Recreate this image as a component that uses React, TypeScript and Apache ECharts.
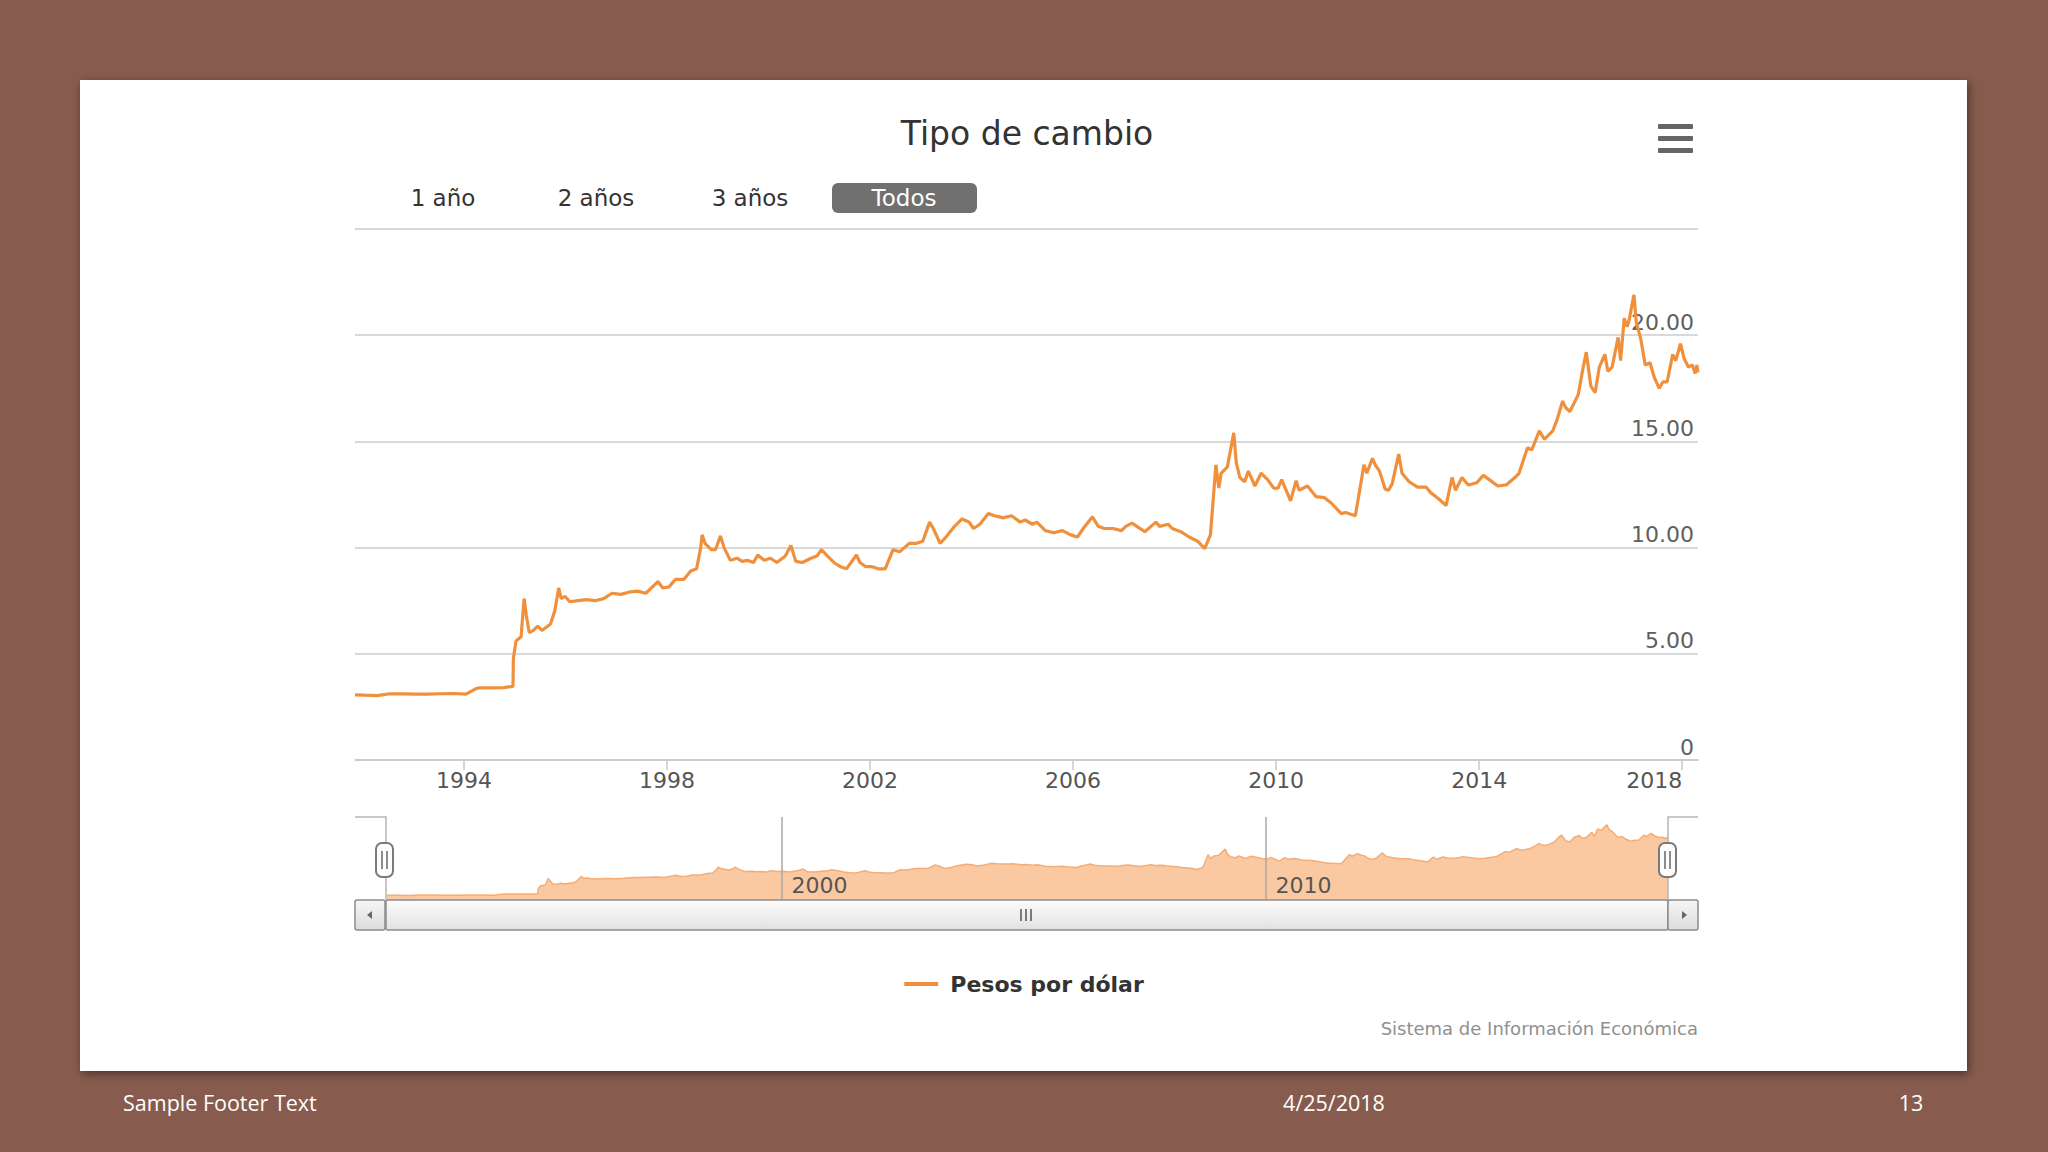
import React, { useEffect, useRef } from 'react';
import * as echarts from 'echarts';

// ---------- data ----------
const dates = [
  '1991-11-08', '1992-01-15', '1992-04-15', '1992-07-15', '1992-10-15', '1993-01-15', '1993-04-15', '1993-07-15', '1993-10-15',
  '1994-01-15', '1994-03-25', '1994-04-20', '1994-07-15', '1994-10-15', '1994-12-19', '1994-12-22',
  '1995-01-10', '1995-02-15', '1995-03-09', '1995-03-25', '1995-04-15', '1995-05-15', '1995-06-15', '1995-07-15', '1995-08-15',
  '1995-09-15', '1995-10-15', '1995-11-13', '1995-12-01', '1995-12-29',
  '1996-02-01', '1996-04-01', '1996-06-01', '1996-08-01', '1996-10-01', '1996-12-01',
  '1997-02-01', '1997-04-01', '1997-06-01', '1997-08-01', '1997-10-27', '1997-12-01',
  '1998-01-15', '1998-03-01', '1998-05-01', '1998-06-20', '1998-08-01', '1998-08-31', '1998-09-10', '1998-10-01', '1998-11-15', '1998-12-15',
  '1999-01-20', '1999-02-15', '1999-04-01', '1999-05-20', '1999-06-25', '1999-08-01', '1999-09-15', '1999-10-15', '1999-12-01',
  '2000-01-15', '2000-03-01', '2000-05-01', '2000-06-10', '2000-07-15', '2000-09-01', '2000-11-01', '2000-12-15',
  '2001-01-15', '2001-03-01', '2001-04-15', '2001-06-01', '2001-07-15', '2001-09-25', '2001-10-20', '2001-12-01',
  '2002-01-15', '2002-03-01', '2002-04-20', '2002-06-15', '2002-08-01', '2002-10-10', '2002-12-01',
  '2003-01-15', '2003-03-05', '2003-04-01', '2003-05-20', '2003-07-01', '2003-09-01', '2003-10-25', '2003-12-15',
  '2004-01-15', '2004-03-01', '2004-05-01', '2004-06-15', '2004-08-15', '2004-10-15', '2004-12-15',
  '2005-01-20', '2005-03-15', '2005-04-15', '2005-06-15', '2005-08-15', '2005-10-15', '2005-12-15',
  '2006-02-01', '2006-03-15', '2006-05-20', '2006-07-01', '2006-08-15', '2006-10-15', '2006-12-15',
  '2007-01-15', '2007-03-01', '2007-04-15', '2007-06-01', '2007-08-20', '2007-09-15', '2007-11-15', '2007-12-15',
  '2008-02-15', '2008-04-15', '2008-06-15', '2008-08-05', '2008-09-15', '2008-10-08', '2008-10-24', '2008-11-15', '2008-12-01',
  '2009-01-15', '2009-03-02', '2009-03-20', '2009-04-15', '2009-05-20', '2009-06-15', '2009-08-01', '2009-09-15', '2009-11-01', '2009-12-15',
  '2010-01-15', '2010-02-10', '2010-04-15', '2010-05-25', '2010-06-15', '2010-08-15', '2010-10-15', '2010-12-15',
  '2011-02-01', '2011-04-15', '2011-05-15', '2011-07-25', '2011-08-15', '2011-09-25', '2011-10-15', '2011-11-25', '2011-12-15',
  '2012-01-15', '2012-02-25', '2012-03-20', '2012-04-15', '2012-06-01', '2012-06-25', '2012-08-15', '2012-10-15', '2012-12-15',
  '2013-01-15', '2013-03-15', '2013-05-08', '2013-06-20', '2013-07-15', '2013-08-30', '2013-10-15', '2013-12-15',
  '2014-01-31', '2014-03-15', '2014-05-15', '2014-07-15', '2014-09-15', '2014-10-15', '2014-12-15',
  '2015-01-15', '2015-03-10', '2015-04-15', '2015-06-15', '2015-07-15', '2015-08-25', '2015-09-15', '2015-10-15', '2015-11-15', '2015-12-15',
  '2016-01-20', '2016-02-11', '2016-03-15', '2016-04-15', '2016-05-15', '2016-06-24', '2016-07-15', '2016-08-15', '2016-09-27', '2016-10-15',
  '2016-11-10', '2016-12-01', '2016-12-15',
  '2017-01-19', '2017-02-05', '2017-03-10', '2017-04-10', '2017-05-15', '2017-06-15', '2017-07-20', '2017-08-15', '2017-09-15', '2017-10-25',
  '2017-11-15', '2017-12-20',
  '2018-01-15', '2018-02-15', '2018-03-15', '2018-04-05', '2018-04-17', '2018-04-25',
];
const pesos = [
  3.07, 3.05, 3.03, 3.12, 3.11, 3.10, 3.10, 3.12, 3.13,
  3.10, 3.35, 3.40, 3.40, 3.41, 3.47, 4.80,
  5.60, 5.80, 7.60, 6.80, 6.00, 6.10, 6.30, 6.10, 6.25,
  6.40, 7.00, 8.10, 7.60, 7.70,
  7.45, 7.50, 7.55, 7.50, 7.60, 7.85,
  7.80, 7.90, 7.95, 7.85, 8.40, 8.10,
  8.15, 8.50, 8.50, 8.90, 9.00, 10.00, 10.60, 10.20, 9.90, 9.90,
  10.55, 10.00, 9.40, 9.50, 9.35, 9.40, 9.30, 9.65, 9.40,
  9.50, 9.30, 9.60, 10.10, 9.35, 9.30, 9.50, 9.60,
  9.90, 9.60, 9.30, 9.10, 9.00, 9.65, 9.30, 9.10,
  9.10, 9.00, 9.00, 9.90, 9.80, 10.20, 10.20,
  10.30, 11.20, 10.90, 10.20, 10.50, 11.00, 11.35, 11.20,
  10.90, 11.10, 11.60, 11.50, 11.40, 11.50, 11.20,
  11.30, 11.10, 11.20, 10.80, 10.70, 10.80, 10.60,
  10.50, 10.90, 11.45, 11.00, 10.90, 10.90, 10.80,
  11.00, 11.15, 10.95, 10.75, 11.20, 11.00, 11.10, 10.90,
  10.75, 10.50, 10.30, 9.95, 10.60, 12.50, 13.90, 12.80, 13.50,
  13.80, 15.40, 14.00, 13.30, 13.10, 13.60, 12.90, 13.50, 13.20, 12.80,
  12.80, 13.20, 12.20, 13.15, 12.70, 12.90, 12.40, 12.35,
  12.10, 11.60, 11.65, 11.50, 12.30, 13.90, 13.50, 14.20, 13.90,
  13.60, 12.75, 12.70, 13.00, 14.40, 13.50, 13.10, 12.85, 12.85,
  12.60, 12.30, 11.98, 13.30, 12.70, 13.30, 12.95, 13.05,
  13.40, 13.20, 12.90, 12.95, 13.30, 13.50, 14.70,
  14.60, 15.50, 15.10, 15.50, 16.00, 16.90, 16.60, 16.40, 16.80, 17.20,
  18.50, 19.20, 17.60, 17.30, 18.50, 19.10, 18.30, 18.50, 19.90, 18.80,
  20.80, 20.40, 20.70,
  21.90, 20.60, 19.80, 18.60, 18.70, 18.00, 17.50, 17.80, 17.80, 19.10,
  18.80, 19.60,
  18.90, 18.50, 18.60, 18.20, 18.60, 18.25,
];
const yearTicks = ['1994-01-01', '1998-01-01', '2002-01-01', '2006-01-01', '2010-01-01', '2014-01-01', '2018-01-01'];
const navigatorTicks = ['2000-01-01', '2010-01-01'];
const yTicks = [0, 5, 10, 15, 20, 25];
const rangeButtons = ['1 año', '2 años', '3 años', 'Todos'];
const seriesName = 'Pesos por dólar';
const chartTitle = 'Tipo de cambio';
const creditText = 'Sistema de Información Económica';
const footerTexts = ['Sample Footer Text', '4/25/2018', '13'];

const FONT = '"DejaVu Sans", Verdana, sans-serif';
const FOOT_FONT = '"Open Sans", "Noto Sans", sans-serif';

function txt(text: string, x: number, y: number, size: number, fill: string, align = 'center', extra: any = {}) {
  return {
    type: 'text',
    x,
    y,
    z: 100,
    silent: true,
    style: {
      text,
      fill,
      fontSize: size,
      fontFamily: extra.family || FONT,
      fontWeight: extra.weight || 'normal',
      align,
      textAlign: align,
      verticalAlign: 'middle',
      textVerticalAlign: 'middle',
    },
  };
}

export default function App() {
  const ref = useRef<HTMLDivElement>(null);

  useEffect(() => {
    if (!ref.current) return;
    const chart = echarts.init(ref.current, null, { renderer: 'svg' });
    const data = dates.map((d, i) => [Date.parse(d), pesos[i]]);
    const xMin = Date.parse(dates[0]);
    const xMax = Date.parse(dates[dates.length - 1]);
    const yearVals = yearTicks.map((d) => Date.parse(d));
    const navVals = navigatorTicks.map((d) => Date.parse(d));
    const yearFmt = (v: number) => String(new Date(v).getUTCFullYear());

    const btnX = [443, 596, 750, 904];
    const graphics: any[] = [
      {
        type: 'rect',
        z: -10,
        silent: true,
        shape: { x: 80, y: 80, width: 1887, height: 991 },
        style: { fill: '#ffffff', shadowBlur: 10, shadowColor: 'rgba(0,0,0,0.45)', shadowOffsetX: 2, shadowOffsetY: 3 },
      },
      txt(chartTitle, 1027, 133, 33, '#333333'),
      {
        type: 'rect',
        z: 99,
        silent: true,
        shape: { x: 832, y: 183, width: 145, height: 30, r: 6 },
        style: { fill: '#707070' },
      },
      ...rangeButtons.map((b, i) => txt(b, btnX[i], 198, 23, i === 3 ? '#ffffff' : '#333333')),
      ...[0, 1, 2].map((i) => ({
        type: 'rect',
        z: 100,
        silent: true,
        shape: { x: 1658, y: 124 + i * 12, width: 35, height: 5, r: 1 },
        style: { fill: '#666666' },
      })),
      {
        type: 'polyline',
        z: 100,
        silent: true,
        shape: { points: [[355, 817], [386, 817], [386, 900]] },
        style: { stroke: '#b5b5b5', lineWidth: 1.5, fill: null },
      },
      {
        type: 'polyline',
        z: 100,
        silent: true,
        shape: { points: [[1698, 817], [1668, 817], [1668, 900]] },
        style: { stroke: '#b5b5b5', lineWidth: 1.5, fill: null },
      },
      {
        type: 'rect',
        z: 100,
        silent: true,
        shape: { x: 386, y: 900, width: 1282, height: 30, r: 2 },
        style: {
          fill: new echarts.graphic.LinearGradient(0, 0, 0, 1, [
            { offset: 0, color: '#fcfcfc' },
            { offset: 1, color: '#e2e2e2' },
          ]),
          stroke: '#8c8c8c',
          lineWidth: 1.5,
        },
      },
      ...[355, 1668].map((x) => ({
        type: 'rect',
        z: 100,
        silent: true,
        shape: { x, y: 900, width: 30, height: 30, r: 2 },
        style: {
          fill: new echarts.graphic.LinearGradient(0, 0, 0, 1, [
            { offset: 0, color: '#f6f6f6' },
            { offset: 1, color: '#dcdcdc' },
          ]),
          stroke: '#8c8c8c',
          lineWidth: 1.5,
        },
      })),
      {
        type: 'polygon',
        z: 101,
        silent: true,
        shape: { points: [[367, 915], [372, 911], [372, 919]] },
        style: { fill: '#666666' },
      },
      {
        type: 'polygon',
        z: 101,
        silent: true,
        shape: { points: [[1687, 915], [1682, 911], [1682, 919]] },
        style: { fill: '#666666' },
      },
      ...[1021, 1026, 1031].map((x) => ({
        type: 'line',
        z: 101,
        silent: true,
        shape: { x1: x, y1: 909, x2: x, y2: 921 },
        style: { stroke: '#555555', lineWidth: 1.5 },
      })),
      ...[376, 1659].map((x) => ({
        type: 'rect',
        z: 102,
        silent: true,
        shape: { x, y: 843, width: 17, height: 34, r: 6 },
        style: { fill: '#fdfdfd', stroke: '#7a7a7a', lineWidth: 2 },
      })),
      ...[382, 387, 1665, 1670].map((x) => ({
        type: 'line',
        z: 103,
        silent: true,
        shape: { x1: x, y1: 851, x2: x, y2: 869 },
        style: { stroke: '#666666', lineWidth: 1.5 },
      })),
      txt(creditText, 1698, 1028, 18, '#909090', 'right'),
      txt(footerTexts[0], 123, 1102, 21.5, '#ffffff', 'left', { family: FOOT_FONT }),
      txt(footerTexts[1], 1334, 1102, 21.5, '#ffffff', 'center', { family: FOOT_FONT }),
      txt(footerTexts[2], 1911, 1102, 21.5, '#ffffff', 'center', { family: FOOT_FONT }),
    ];

    const option: any = {
      animation: false,
      backgroundColor: '#875c4e',
      grid: [
        { left: 355, right: 350, top: 229, height: 531, containLabel: false },
        { left: 387, right: 380, top: 817, height: 83, containLabel: false },
      ],
      legend: {
        data: [seriesName],
        left: 'center',
        top: 968,
        icon: 'rect',
        itemWidth: 34,
        itemHeight: 4,
        textStyle: { fontSize: 22, fontWeight: 'bold', color: '#333333', fontFamily: FONT, padding: [0, 0, 0, 7] },
      },
      xAxis: [
        {
          type: 'value',
          gridIndex: 0,
          min: xMin,
          max: xMax,
          axisLine: { lineStyle: { color: '#c8c8c8', width: 1.5 } },
          axisTick: { show: true, customValues: yearVals, length: 10, lineStyle: { color: '#c8c8c8', width: 1.5 } },
          axisLabel: {
            customValues: yearVals,
            formatter: yearFmt,
            color: '#555555',
            fontSize: 22,
            fontFamily: FONT,
            margin: 9,
            alignMaxLabel: 'right',
          },
          splitLine: { show: false },
        },
        {
          type: 'value',
          gridIndex: 1,
          min: xMin,
          max: xMax,
          z: 5,
          axisLine: { show: false },
          axisTick: { show: true, inside: true, customValues: navVals, length: 83, lineStyle: { color: '#a8a8a8', width: 1.5 } },
          axisLabel: {
            inside: true,
            customValues: navVals,
            formatter: yearFmt,
            align: 'left',
            padding: [0, 0, 0, 10],
            margin: 4,
            color: '#555555',
            fontSize: 22,
            fontFamily: FONT,
          },
          splitLine: { show: false },
        },
      ],
      yAxis: [
        {
          type: 'value',
          gridIndex: 0,
          position: 'right',
          min: 0,
          max: 25,
          interval: 5,
          axisLine: { show: false },
          axisTick: { show: false },
          splitLine: { lineStyle: { color: '#cccccc', width: 1.5 } },
          axisLabel: {
            inside: true,
            margin: 4,
            align: 'right',
            verticalAlign: 'bottom',
            padding: [0, 0, 2, 0],
            color: '#606060',
            fontSize: 22,
            fontFamily: FONT,
            formatter: (v: number) => (v === 0 ? '0' : v === yTicks[yTicks.length - 1] ? '' : v.toFixed(2)),
          },
        },
        { type: 'value', gridIndex: 1, min: 1.8, max: 24, show: false },
      ],
      series: [
        {
          name: seriesName,
          type: 'line',
          xAxisIndex: 0,
          yAxisIndex: 0,
          data,
          symbol: 'none',
          color: '#f0903c',
          lineStyle: { color: '#f0903c', width: 3.2 },
          z: 3,
        },
        {
          name: 'navigator',
          type: 'line',
          xAxisIndex: 1,
          yAxisIndex: 1,
          data,
          symbol: 'none',
          silent: true,
          lineStyle: { color: '#f5ad75', width: 1.5 },
          areaStyle: { color: '#fac9a2', opacity: 1, origin: 'start' },
          z: 2,
        },
      ],
      graphic: graphics,
    };
    chart.setOption(option);
    return () => chart.dispose();
  }, []);

  return <div ref={ref} style={{ position: 'fixed', left: 0, top: 0, width: 2048, height: 1152 }} />;
}
